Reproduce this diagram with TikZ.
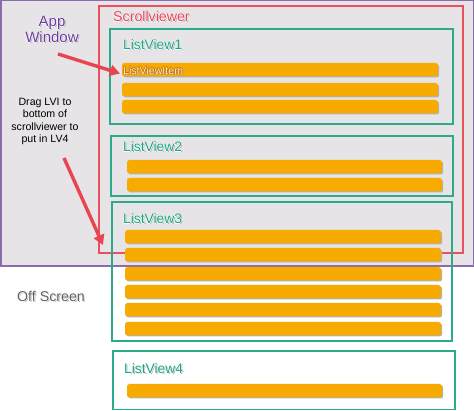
\documentclass[tikz,border=0pt]{standalone}
\usepackage{fontspec}
\setmainfont{Liberation Sans}
\usetikzlibrary{arrows.meta}
\definecolor{appbg}{HTML}{E6E4E6}
\definecolor{apppurple}{HTML}{8A6BAE}
\definecolor{svred}{HTML}{E9525C}
\definecolor{lvteal}{HTML}{2BAA8C}
\definecolor{lviorange}{HTML}{F7AA00}
\definecolor{arrred}{HTML}{EA4450}
\definecolor{txtpurple}{HTML}{6B3D9E}
\definecolor{txtred}{HTML}{E94257}
\definecolor{txtteal}{HTML}{1EA487}
\definecolor{lvitext}{HTML}{FFF3C0}
\newcommand\glowtxt[3]{\leavevmode
  \rlap{\color{black!35}\kern1pt\raisebox{-1pt}{#3}}%
  \rlap{\color{#1}\kern-0.6pt #3}\rlap{\color{#1}\kern0.6pt #3}%
  \rlap{\color{#1}\raisebox{0.6pt}{#3}}\rlap{\color{#1}\raisebox{-0.6pt}{#3}}%
  {\color{#2}#3}}
\tikzset{
  appbox/.style={draw=apppurple,fill=appbg,line width=1.5pt},
  svbox/.style={draw=svred,line width=1.2pt},
  lvbox/.style={draw=lvteal,line width=1.2pt},
  lvibar/.style={fill=lviorange,rounded corners=2.5pt},
  lvishadow/.style={fill=black!30,rounded corners=2.5pt},
  lvlabel/.style={anchor=west,inner sep=0pt,font=\fontsize{13.8}{15}\selectfont},
  redarrow/.style={draw=arrred,line width=3.4pt,-{Triangle[length=10pt,width=11pt]}},
}
\newcommand\lvi[3]{%
  \fill[lvishadow] (#1+1.2,#3+1.5) rectangle (#2+1.2,#3+14.5);
  \fill[lvibar] (#1,#3) rectangle (#2,#3+13.5);}
\begin{document}
\begin{tikzpicture}[x=1pt,y=-1pt]
\useasboundingbox (0,0) rectangle (474,411);
\fill[white] (0,0) rectangle (474,411);
% app window
\draw[appbox] (0.75,0.75) rectangle (473.25,266);
% scrollviewer
\draw[svbox] (99,6) rectangle (463,253);
% list views
\draw[lvbox] (110,29) rectangle (453,124);
\draw[lvbox] (111,136) rectangle (453,196);
\draw[lvbox] (112,202) rectangle (452,341);
\draw[lvbox] (113,351) rectangle (455,409.5);
% items
\lvi{122}{438}{63}
\lvi{122}{438}{83}
\lvi{122}{438}{100}
\lvi{127}{442}{160}
\lvi{127}{442}{178}
\lvi{125}{441}{230}
\lvi{125}{441}{248}
\lvi{125}{441}{267}
\lvi{125}{441}{285}
\lvi{125}{441}{303}
\lvi{125}{441}{322}
\lvi{127}{442}{384}
% labels
\node[lvlabel,font=\fontsize{14.2}{15}\selectfont] (svlab) at (113,17) {\glowtxt{white}{txtred}{Scrollviewer}};
\node[lvlabel] (lv1lab) at (123,45) {\glowtxt{white}{txtteal}{ListView1}};
\node[lvlabel] (lv2lab) at (123,147) {\glowtxt{white}{txtteal}{ListView2}};
\node[lvlabel] (lv3lab) at (123,219) {\glowtxt{white}{txtteal}{ListView3}};
\node[lvlabel] (lv4lab) at (124,369) {\glowtxt{white}{txtteal}{ListView4}};
\node[anchor=west,inner sep=0pt,font=\fontsize{10.6}{12}\selectfont] (lvilab) at (123,70.5) {\glowtxt{orange!80!black}{lvitext}{ListViewItem}};
\node[align=center,inner sep=0pt,font=\fontsize{15}{16}\selectfont] (applab) at (52,30) {\glowtxt{white}{txtpurple}{App}\\\glowtxt{white}{txtpurple}{Window}};
\node[align=center,inner sep=0pt,font=\fontsize{10.6}{12.5}\selectfont] (draglab) at (45,121.5) {Drag LVI to\\bottom of\\scrollviewer to\\put in LV4};
\node[lvlabel,font=\fontsize{14.2}{15}\selectfont] (offlab) at (17,297) {\glowtxt{white}{black!62}{Off Screen}};
% arrows
\coordinate (a1s) at (58,54);
\coordinate (a1e) at (120,73.5);
\coordinate (a2s) at (64,158);
\coordinate (a2e) at (103,245);
\draw[redarrow] (a1s) -- (a1e);
\draw[redarrow] (a2s) -- (a2e);
\end{tikzpicture}
\end{document}
